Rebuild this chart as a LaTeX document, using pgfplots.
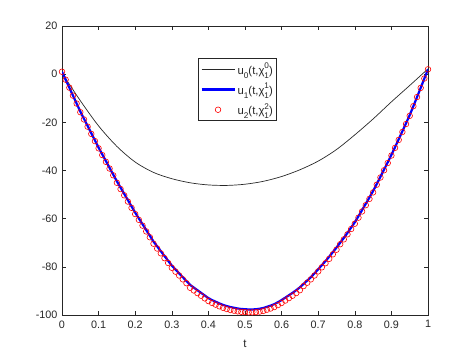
\documentclass[border=0pt]{standalone}
\usepackage{fontspec}
\setmainfont{Liberation Sans}
\usepackage{pgfplots}
\pgfplotsset{compat=1.18}
\definecolor{axgray}{RGB}{38,38,38}
\definecolor{u0col}{RGB}{40,40,40}
\newcommand{\lo}[1]{\raisebox{-0.38em}{\fontsize{8.2}{9}\selectfont #1}}
\newcommand{\chisub}[2]{χ\rlap{\raisebox{0.5em}{\fontsize{8.2}{9}\selectfont #1}}\raisebox{-0.38em}{\fontsize{8.2}{9}\selectfont #2}}
\pgfplotsset{
  lineleg/.style={legend image code/.code={\draw[##1] (0pt,0pt) -- (33pt,0pt);}},
  markleg/.style={legend image code/.code={\draw[##1,mark repeat=2,mark phase=2] plot coordinates {(0pt,0pt)(16.5pt,0pt)(33pt,0pt)};}},
}
\begin{document}
\begin{tikzpicture}[x=1pt,y=1pt]
\useasboundingbox (0,0) rectangle (474,355);
\begin{axis}[
  at={(62pt,40pt)}, anchor=south west,
  scale only axis, width=366pt, height=289pt,
  xmin=0, xmax=1, ymin=-100, ymax=20,
  xtick={0,0.1,0.2,0.3,0.4,0.5,0.6,0.7,0.8,0.9,1},
  xticklabels={0,0.1,0.2,0.3,0.4,0.5,0.6,0.7,0.8,0.9,1},
  ytick={-100,-80,-60,-40,-20,0,20},
  yticklabels={-100,-80,-60,-40,-20,0,20},
  tick align=inside, tick pos=both,
  major tick length=4pt,
  axis line style={axgray, line width=0.6pt},
  tick style={axgray, line width=0.6pt},
  ticklabel style={font=\fontsize{10.8}{12}\selectfont, text=axgray},
  xticklabel style={yshift=-2pt},
  yticklabel style={xshift=-1pt},
  xlabel={t}, xlabel style={font=\fontsize{11.5}{13}\selectfont, text=axgray, yshift=-5pt},
  legend cell align=left,
  legend style={at={(0.372,0.888)}, anchor=north west, draw=axgray, line width=0.6pt,
    fill=white, font=\fontsize{11.3}{13}\selectfont, text=axgray,
    row sep=3.5pt, inner sep=2pt},
]
\addplot[u0col, line width=0.7pt, smooth, lineleg] coordinates {
(0,0.5)(0.05,-11)(0.1,-21.5)(0.15,-30)(0.2,-36.5)(0.25,-40.8)(0.3,-43.4)(0.35,-45.1)(0.4,-46.0)(0.45,-46.2)(0.5,-45.7)(0.55,-44.5)(0.6,-42.5)(0.65,-39.7)(0.7,-36.1)(0.75,-31.3)(0.8,-25.2)(0.85,-18.6)(0.9,-11.5)(0.95,-4.7)(1,2.2)
};
\addlegendentry{u\lo{0}(t,\chisub{0}{1})}
\addplot[blue, line width=2.2pt, lineleg] coordinates {
(0,1.0)(0.01,-2.3)(0.02,-5.6)(0.03,-8.9)(0.04,-12.2)(0.05,-15.5)(0.06,-18.5)(0.07,-21.5)(0.08,-24.5)(0.09,-27.5)(0.1,-30.5)(0.11,-33.3)(0.12,-36.1)(0.13,-38.9)(0.14,-41.7)(0.15,-44.5)(0.16,-47.1)(0.17,-49.7)(0.18,-52.3)(0.19,-54.9)(0.2,-57.5)(0.21,-59.9)(0.22,-62.3)(0.23,-64.7)(0.24,-67.1)(0.25,-69.5)(0.26,-71.5)(0.27,-73.5)(0.28,-75.5)(0.29,-77.5)(0.3,-79.5)(0.31,-81.1)(0.32,-82.7)(0.33,-84.3)(0.34,-85.9)(0.35,-87.5)(0.36,-88.6)(0.37,-89.7)(0.38,-90.8)(0.39,-91.9)(0.4,-93.0)(0.41,-93.8)(0.42,-94.5)(0.43,-95.2)(0.44,-95.8)(0.45,-96.3)(0.46,-96.7)(0.47,-97.0)(0.48,-97.3)(0.49,-97.5)(0.5,-97.6)(0.51,-97.7)(0.52,-97.7)(0.53,-97.6)(0.54,-97.4)(0.55,-97.1)(0.56,-96.6)(0.57,-96.1)(0.58,-95.5)(0.59,-94.7)(0.6,-93.8)(0.61,-92.8)(0.62,-91.8)(0.63,-90.8)(0.64,-89.7)(0.65,-88.5)(0.66,-87.1)(0.67,-85.7)(0.68,-84.3)(0.69,-82.7)(0.7,-81.0)(0.71,-79.3)(0.72,-77.6)(0.73,-75.8)(0.74,-73.9)(0.75,-72.0)(0.76,-70.0)(0.77,-68.0)(0.78,-65.9)(0.79,-63.7)(0.8,-61.5)(0.81,-59.0)(0.82,-56.4)(0.83,-53.8)(0.84,-51.2)(0.85,-48.5)(0.86,-45.6)(0.87,-42.6)(0.88,-39.6)(0.89,-36.6)(0.9,-33.5)(0.91,-30.3)(0.92,-27.0)(0.93,-23.7)(0.94,-20.4)(0.95,-17.0)(0.96,-13.3)(0.97,-9.5)(0.98,-5.7)(0.99,-1.8)(1,2.0)
};
\addlegendentry{u\lo{1}(t,\chisub{1}{1})}
\addplot[red, only marks, mark=o, mark size=2.8pt, mark options={line width=0.6pt}, markleg] coordinates {
(0,1.0)(0.01,-2.3)(0.02,-5.6)(0.03,-8.9)(0.04,-12.2)(0.05,-15.8)(0.06,-18.8)(0.07,-21.8)(0.08,-24.8)(0.09,-27.8)(0.1,-30.8)(0.11,-33.6)(0.12,-36.4)(0.13,-39.2)(0.14,-42.0)(0.15,-45.1)(0.16,-47.7)(0.17,-50.3)(0.18,-52.9)(0.19,-55.5)(0.2,-58.1)(0.21,-60.5)(0.22,-62.9)(0.23,-65.3)(0.24,-67.7)(0.25,-70.4)(0.26,-72.4)(0.27,-74.4)(0.28,-76.4)(0.29,-78.4)(0.3,-80.4)(0.31,-82.0)(0.32,-83.6)(0.33,-85.2)(0.34,-86.8)(0.35,-88.7)(0.36,-89.8)(0.37,-90.9)(0.38,-92.0)(0.39,-93.1)(0.4,-94.2)(0.41,-95.0)(0.42,-95.7)(0.43,-96.4)(0.44,-97.0)(0.45,-97.5)(0.46,-97.9)(0.47,-98.2)(0.48,-98.5)(0.49,-98.7)(0.5,-98.8)(0.51,-98.9)(0.52,-98.9)(0.53,-98.8)(0.54,-98.6)(0.55,-98.3)(0.56,-97.8)(0.57,-97.3)(0.58,-96.7)(0.59,-95.9)(0.6,-95.0)(0.61,-94.0)(0.62,-93.0)(0.63,-92.0)(0.64,-90.9)(0.65,-89.7)(0.66,-88.0)(0.67,-86.6)(0.68,-85.2)(0.69,-83.6)(0.7,-81.9)(0.71,-80.2)(0.72,-78.5)(0.73,-76.7)(0.74,-74.8)(0.75,-72.9)(0.76,-70.6)(0.77,-68.6)(0.78,-66.5)(0.79,-64.3)(0.8,-62.1)(0.81,-59.6)(0.82,-57.0)(0.83,-54.4)(0.84,-51.8)(0.85,-49.1)(0.86,-45.9)(0.87,-42.9)(0.88,-39.9)(0.89,-36.9)(0.9,-33.8)(0.91,-30.6)(0.92,-27.3)(0.93,-24.0)(0.94,-20.7)(0.95,-17.3)(0.96,-13.3)(0.97,-9.5)(0.98,-5.7)(0.99,-1.8)(1,2.0)
};
\addlegendentry{u\lo{2}(t,\chisub{2}{1})}
\end{axis}
\end{tikzpicture}
\end{document}
